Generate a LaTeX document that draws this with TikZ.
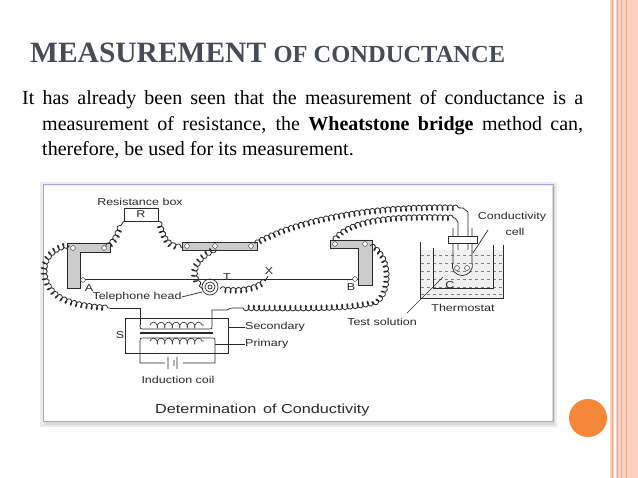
\documentclass[tikz,border=0pt]{standalone}
\usepackage{fontspec}
\setmainfont{Liberation Serif}
\setsansfont{Liberation Sans}
\newfontfamily\diagfont[FakeStretch=1.25]{Liberation Sans}
\usetikzlibrary{decorations.pathmorphing}
\definecolor{band}{HTML}{FAD0C0}
\definecolor{bandline}{HTML}{F0A890}
\definecolor{dot}{HTML}{F5873A}
\definecolor{ttl}{HTML}{464C55}
\definecolor{ink}{HTML}{2A2A2A}
\tikzset{
 coilw/.style={decorate,decoration={coil,aspect=0.6,segment length=5.2pt,amplitude=2.8pt},line width=0.8pt,draw=ink},
 wire/.style={line width=0.7pt,draw=ink},
 bar/.style={draw=ink,line width=0.8pt,fill=gray!40},
 lab/.style={font=\diagfont\fontsize{10}{12}\selectfont,inner sep=0pt,text=ink},
 body/.style={font=\fontsize{20}{23}\selectfont,anchor=base west,inner sep=0pt}
}
\begin{document}
\begin{tikzpicture}[x=1pt,y=-1pt]
\useasboundingbox (0,0) rectangle (638,478);
\fill[white] (0,0) rectangle (638,478);
% right band
\fill[band] (610,0) rectangle (638,478);
\foreach \x in {612,617,621,626}{\draw[bandline,line width=0.8pt] (\x,0) -- (\x,478);}
\fill[white] (614,0) rectangle (616,478);
% title
\node[anchor=base west,inner sep=0pt,text=ttl,font=\bfseries] (title) at (30,63)
 {\fontsize{29.5}{31}\selectfont MEASUREMENT \fontsize{24.5}{26}\selectfont OF CONDUCTANCE};
\node[body] (l1) at (22,105) {\makebox[561pt][s]{It has already been seen that the measurement of conductance is a}};
\node[body] (l2) at (42,131) {\makebox[541pt][s]{measurement of resistance, the \textbf{Wheatstone bridge} method can,}};
\node[body] (l3) at (42,156) {therefore, be used for its measurement.};
% diagram frame with shadow
\fill[gray!15] (40,182) rectangle (557,427);
\fill[gray!30] (44,186) rectangle (555,425);
\draw[line width=1pt,draw=gray!60!blue!50] (43,185) rectangle (553,422);
\fill[white] (44,186) rectangle (552,421);
% bridge
\draw[wire] (80,279) -- (358,279);
\path[bar] (67,243) -- (110,243) -- (110,252) -- (80,252) -- (80,288) -- (67,288) -- cycle;
\path[bar] (182,242) rectangle (257,250);
\path[bar] (330,240) -- (372,240) -- (372,285) -- (358,285) -- (358,248) -- (330,248) -- cycle;
\foreach \p in {(73,248),(104,248),(187,246),(215,246),(251,246),(335,244),(365,244),(83,280),(355,279)}{\draw[draw=ink,fill=white] \p circle (2.4);}
\node[lab] (A) at (89,288) {A};
\node[lab] (B) at (351,287) {B};
\node[lab] (X) at (269,271) {X};
\node[lab] (T) at (227,277) {T};
\draw[line width=0.7pt,draw=ink] (210,287) circle (8) (210,287) circle (5) (210,287) circle (2);
% resistance box
\node[draw=ink,line width=0.8pt,minimum width=34pt,minimum height=13pt,lab] (R) at (141,214.5) {R};
\node[lab] (rb) at (140,202) {Resistance box};
\draw[coilw] (106,247) .. controls (118,240) and (118,228) .. (R.south west);
\draw[coilw] (R.south east) .. controls (164,238) and (166,246) .. (183,247);
% coiled wires
\draw[coilw] (69,245) .. controls (45,250) and (42,268) .. (46,280) .. controls (52,298) and (70,306) .. (110,308);
\draw[wire] (110,308) -- (140,308) -- (140,325);
\draw[coilw] (255,244) .. controls (300,218) and (380,205) .. (463,208);
\draw[wire] (463,208) -- (468,212) -- (468,265);
\draw[coilw] (334,241) .. controls (350,218) and (400,216) .. (455,218);
\draw[wire] (455,218) -- (458,222) -- (458,265);
\draw[coilw] (216,249) .. controls (195,258) and (188,275) .. (203,289);
\draw[coilw] (220,289) .. controls (240,292) and (260,290) .. (268,276);
\draw[coilw] (370,246) .. controls (392,255) and (390,295) .. (375,302) .. controls (350,310) and (290,308) .. (243,308);
\draw[wire] (243,308) -- (236,308) .. controls (230,308) .. (227,310) -- (212,310) -- (212,325);
% induction coil
\draw[wire] (125,318) rectangle (228,353);
\draw[wire] (140,325) -- (140,326) .. controls (140,329) .. (143,329) -- (209,329) .. controls (212,329) .. (212,326) -- (212,325);
\draw[decorate,decoration={coil,aspect=0.6,segment length=7.5pt,amplitude=2.8pt},line width=0.6pt,draw=ink] (150,325) -- (204,325);
\draw[line width=1.1pt,draw=ink] (140,333) -- (213,333);
\draw[decorate,decoration={coil,aspect=0.6,segment length=7.5pt,amplitude=2.8pt},line width=0.6pt,draw=ink] (150,341) -- (204,341);
\draw[wire] (143,338) .. controls (140,338) .. (140,341) -- (140,363) -- (165,363) (168,357) -- (168,369) (174,360) -- (174,366) (177,357) -- (177,369) (183,363) -- (215,363) -- (215,341) .. controls (215,338) .. (212,338) -- (143,338);
\node[lab] (S) at (120,335) {S};
\node[lab,anchor=west] (sec) at (245,327) {Secondary};
\node[lab,anchor=west] (pri) at (245,344) {Primary};
\draw[wire] (228,327) -- (sec.west);
\draw[wire] (215,344) -- (pri.west);
\node[lab] (ic) at (178,380) {Induction coil};
% thermostat
\fill[gray!12] (420,250) rectangle (503,298);
\foreach \yy in {255,263,271,279,287,294}{\draw[line width=0.5pt,dashed,gray] (421,\yy) -- (502,\yy);}
\draw[line width=0.8pt,draw=ink] (420,242) -- (420,298) -- (503,298) -- (503,245);
\draw[line width=0.8pt,draw=ink] (433,248) -- (433,288) -- (493,288) -- (493,245);
\draw[wire] (453,228) -- (453,262) .. controls (448,280) and (476,280) .. (472,262) -- (472,228);
\draw[line width=0.6pt,draw=ink,fill=white] (448,236) rectangle (477,243);
\draw[draw=ink] (457,268) circle (2.5) (467,268) circle (2.5);
\node[lab] (C) at (450,285) {C};
\node[lab] (cc) at (512,217) {Conductivity};
\node[lab] (cl) at (515,232) {cell};
\draw[wire] (488,230) -- (473,253);
\node[lab] (th) at (463,308) {Thermostat};
\node[lab] (ts) at (382,322) {Test solution};
\draw[wire] (407,313) -- (443,277);
\node[lab] (tel) at (137,297) {Telephone head};
\draw[wire] (tel.east) -- (202,292);
\node[font=\diagfont\fontsize{13}{14}\selectfont,text=ink,anchor=west,inner sep=0pt] (cap) at (155,410) {Determination\, of Conductivity};
% orange dot
\fill[dot] (588,418) circle (19);
\end{tikzpicture}
\end{document}
